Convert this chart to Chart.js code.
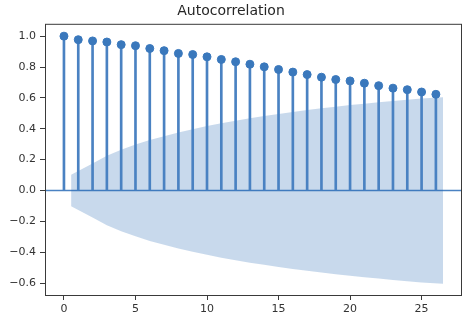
<!DOCTYPE html>
<html>
<head>
<meta charset="utf-8">
<title>Autocorrelation</title>
<script src="https://cdn.jsdelivr.net/npm/chart.js@4.4.1/dist/chart.umd.min.js"></script>
<style>
  html, body { margin: 0; padding: 0; background: #fff; }
  #wrap { width: 474px; height: 326px; }
</style>
</head>
<body>
<div id="wrap"><canvas id="acfChart"></canvas></div>
<script>
// ACF values per lag
const lags = [0, 1, 2, 3, 4, 5, 6, 7, 8, 9, 10, 11, 12, 13, 14, 15, 16, 17, 18, 19, 20, 21, 22, 23, 24, 25, 26];
const acfValues = [1.0, 0.977, 0.969, 0.962, 0.945, 0.938, 0.920, 0.906, 0.888, 0.881, 0.866, 0.849, 0.834,
  0.818, 0.801, 0.784, 0.767, 0.751, 0.734, 0.719, 0.710, 0.695, 0.679, 0.663, 0.653, 0.638, 0.623];

// 95% confidence half-width for lags 1..26
const confHalfWidth = [0.102, 0.175, 0.225, 0.264, 0.297, 0.327, 0.352, 0.376, 0.397, 0.417, 0.436, 0.452, 0.468,
  0.482, 0.496, 0.509, 0.521, 0.532, 0.543, 0.553, 0.562, 0.571, 0.580, 0.588, 0.596, 0.604];

const xTicks = [0, 5, 10, 15, 20, 25];
const yTicks = [-0.6, -0.4, -0.2, 0.0, 0.2, 0.4, 0.6, 0.8, 1.0];

const markerColor = '#3a78bc';
const stemColor = '#4a82c2';
const axisColor = '#3a3a3a';
const tickFont = { family: 'DejaVu Sans', size: 11 };

// band x positions: lags 1..26, ends pushed out by half a lag
const bandX = lags.slice(1).map((l, i, arr) => i === 0 ? l - 0.5 : (i === arr.length - 1 ? l + 0.5 : l));
const upperBand = bandX.map((x, i) => ({ x: x, y: confHalfWidth[i] }));
const lowerBand = bandX.map((x, i) => ({ x: x, y: -confHalfWidth[i] }));
const points = lags.map((l, i) => ({ x: l, y: acfValues[i] }));

// horizontal zero line and the axes box
const framePlugin = {
  id: 'frame',
  beforeDatasetsDraw(chart) {
    const { ctx, chartArea, scales } = chart;
    const y0 = scales.y.getPixelForValue(0);
    ctx.save();
    ctx.strokeStyle = stemColor;
    ctx.lineWidth = 1.5;
    ctx.beginPath();
    ctx.moveTo(chartArea.left, y0);
    ctx.lineTo(chartArea.right, y0);
    ctx.stroke();
    ctx.restore();
  },
  afterDraw(chart) {
    const { ctx, chartArea } = chart;
    ctx.save();
    ctx.strokeStyle = axisColor;
    ctx.lineWidth = 1;
    ctx.strokeRect(chartArea.left + 0.5, chartArea.top + 0.5,
      chartArea.right - chartArea.left - 1, chartArea.bottom - chartArea.top - 1);
    ctx.restore();
  }
};

const ctx = document.getElementById('acfChart').getContext('2d');
new Chart(ctx, {
  type: 'scatter',
  data: {
    datasets: [
      {
        type: 'scatter',
        data: points,
        backgroundColor: markerColor,
        borderColor: markerColor,
        pointRadius: 4,
        pointHoverRadius: 4
      },
      {
        type: 'bar',
        data: points,
        backgroundColor: stemColor,
        barThickness: 2,
        borderWidth: 0
      },
      {
        type: 'line',
        data: upperBand,
        borderWidth: 0,
        pointRadius: 0,
        tension: 0,
        backgroundColor: 'rgba(35, 103, 179, 0.25)',
        fill: '+1'
      },
      {
        type: 'line',
        data: lowerBand,
        borderWidth: 0,
        pointRadius: 0,
        tension: 0,
        fill: false
      }
    ]
  },
  options: {
    responsive: true,
    maintainAspectRatio: false,
    animation: false,
    layout: { padding: { left: 0, right: 12, top: 0, bottom: 0 } },
    plugins: {
      legend: { display: false },
      tooltip: { enabled: false },
      title: {
        display: true,
        text: 'Autocorrelation',
        color: '#262626',
        font: { family: 'DejaVu Sans', size: 14, weight: 'normal' },
        padding: { top: 3, bottom: 4 }
      }
    },
    scales: {
      x: {
        type: 'linear',
        offset: false,
        min: -1.325,
        max: 27.825,
        afterBuildTicks: scale => { scale.ticks = xTicks.map(v => ({ value: v })); },
        afterFit: scale => { scale.height = 30; },
        grid: { offset: false, drawOnChartArea: false, color: axisColor, tickLength: 4 },
        border: { display: false },
        ticks: { color: '#333333', font: tickFont, padding: 3, maxRotation: 0, callback: v => String(v) }
      },
      y: {
        type: 'linear',
        min: -0.684,
        max: 1.08,
        afterBuildTicks: scale => { scale.ticks = yTicks.map(v => ({ value: v })); },
        afterFit: scale => { scale.width = 45; },
        grid: { drawOnChartArea: false, color: axisColor, tickLength: 5 },
        border: { display: false },
        ticks: {
          color: '#333333',
          font: tickFont,
          padding: 4,
          callback: v => v.toFixed(1).replace('-', '\u2212')
        }
      }
    }
  },
  plugins: [framePlugin]
});
</script>
</body>
</html>
